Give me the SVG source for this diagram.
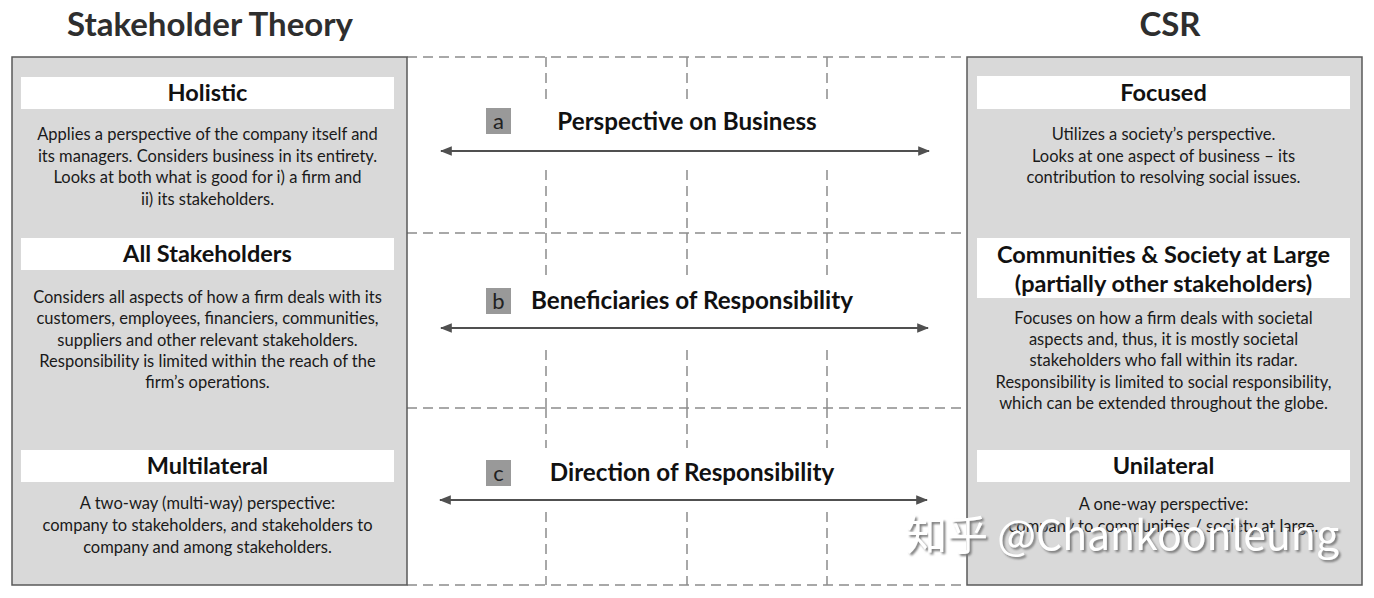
<svg xmlns="http://www.w3.org/2000/svg" width="1374" height="598" viewBox="0 0 1374 598">
<style>
.panel{fill:#d9d9d9;stroke:#595959;stroke-width:1.5}
.hdr{fill:#ffffff}
.title{font-family:Lato,"Open Sans",sans-serif;font-weight:bold;font-size:33px;fill:#2e2e2e;text-anchor:middle}
.h{font-family:Lato,"Open Sans",sans-serif;font-weight:bold;font-size:23.5px;fill:#111111;text-anchor:middle}
.b{font-family:Lato,"Open Sans",sans-serif;font-size:16.5px;fill:#1a1a1a;text-anchor:middle}
.dim{font-family:Lato,"Open Sans",sans-serif;font-weight:bold;font-size:24.2px;fill:#111111;text-anchor:middle}
.tag{fill:#999999}
.tagt{font-family:Lato,"Open Sans",sans-serif;font-size:22px;fill:#222222;text-anchor:middle}
.grid{stroke:#8c8c8c;stroke-width:1.5;stroke-dasharray:10 6;fill:none}
.arrow{stroke:#505050;stroke-width:2;fill:none;marker-start:url(#ah);marker-end:url(#ah)}
.wm{font-family:"Noto Sans CJK SC","Open Sans",sans-serif;font-size:41px;fill:#ffffff;filter:url(#sh)}
</style>
<defs>
<marker id="ah" viewBox="0 0 10 10" refX="9" refY="5" markerWidth="6" markerHeight="6" orient="auto-start-reverse" markerUnits="strokeWidth">
<path d="M0,1 L10,5 L0,9 Z" fill="#505050"/>
</marker>
<filter id="sh" x="-5%" y="-20%" width="110%" height="150%">
<feDropShadow dx="2" dy="2" stdDeviation="0.8" flood-color="#7a7a7a" flood-opacity="1"/>
</filter>
</defs>
<rect width="1374" height="598" fill="#ffffff"/>

<g id="titles">
<text class="title" x="210" y="36">Stakeholder Theory</text>
<text class="title" x="1170" y="36">CSR</text>
</g>

<g id="connectors">
<path class="grid" d="M407,57 H967 M407,233 H967 M407,408 H967 M407,585 H967"/>
<path class="grid" d="M546,57 V105 M546,170 V233 M687,57 V105 M687,170 V233 M827,57 V105 M827,170 V233"/>
<path class="grid" d="M546,233 V280 M546,350 V408 M687,233 V280 M687,350 V408 M827,233 V280 M827,350 V408"/>
<path class="grid" d="M546,408 V448 M546,512 V585 M687,408 V448 M687,512 V585 M827,408 V448 M827,512 V585"/>
<line class="arrow" x1="441" y1="151" x2="929" y2="151"/>
<line class="arrow" x1="441" y1="328" x2="928" y2="328"/>
<line class="arrow" x1="440" y1="500" x2="927" y2="500"/>
</g>

<g id="dim-a">
<rect class="tag" x="486" y="108" width="25" height="26"/>
<text class="tagt" x="498.5" y="129">a</text>
<text class="dim" x="687" y="130">Perspective on Business</text>
</g>
<g id="dim-b">
<rect class="tag" x="486" y="288" width="25" height="26"/>
<text class="tagt" x="498.5" y="309">b</text>
<text class="dim" x="692" y="309">Beneficiaries of Responsibility</text>
</g>
<g id="dim-c">
<rect class="tag" x="486" y="460" width="25" height="26"/>
<text class="tagt" x="498.5" y="481">c</text>
<text class="dim" x="692" y="481">Direction of Responsibility</text>
</g>

<g id="stakeholder-panel">
<rect class="panel" x="12" y="57" width="395" height="528"/>
</g>
<g id="holistic">
<rect class="hdr" x="21" y="77" width="373" height="32"/>
<text class="h" x="207.5" y="101">Holistic</text>
<text class="b" x="207.5" y="140">Applies a perspective of the company itself and</text>
<text class="b" x="207.5" y="162">its managers. Considers business in its entirety.</text>
<text class="b" x="207.5" y="183">Looks at both what is good for i) a firm and</text>
<text class="b" x="207.5" y="205">ii) its stakeholders.</text>
</g>
<g id="all-stakeholders">
<rect class="hdr" x="21" y="238" width="373" height="32"/>
<text class="h" x="207.5" y="262">All Stakeholders</text>
<text class="b" x="207.5" y="303">Considers all aspects of how a firm deals with its</text>
<text class="b" x="207.5" y="324">customers, employees, financiers, communities,</text>
<text class="b" x="207.5" y="346">suppliers and other relevant stakeholders.</text>
<text class="b" x="207.5" y="367">Responsibility is limited within the reach of the</text>
<text class="b" x="207.5" y="388">firm’s operations.</text>
</g>
<g id="multilateral">
<rect class="hdr" x="21" y="450" width="373" height="32"/>
<text class="h" x="207.5" y="474">Multilateral</text>
<text class="b" x="207.5" y="509">A two-way (multi-way) perspective:</text>
<text class="b" x="207.5" y="531">company to stakeholders, and stakeholders to</text>
<text class="b" x="207.5" y="553">company and among stakeholders.</text>
</g>

<g id="csr-panel">
<rect class="panel" x="967" y="57" width="395" height="528"/>
</g>
<g id="focused">
<rect class="hdr" x="977" y="76" width="373" height="33"/>
<text class="h" x="1163.5" y="101">Focused</text>
<text class="b" x="1163.5" y="140">Utilizes a society’s perspective.</text>
<text class="b" x="1163.5" y="162">Looks at one aspect of business – its</text>
<text class="b" x="1163.5" y="183">contribution to resolving social issues.</text>
</g>
<g id="communities">
<rect class="hdr" x="977" y="238" width="373" height="60"/>
<text class="h" x="1163.5" y="263">Communities &amp; Society at Large</text>
<text class="h" x="1163.5" y="292">(partially other stakeholders)</text>
<text class="b" x="1163.5" y="324">Focuses on how a firm deals with societal</text>
<text class="b" x="1163.5" y="345">aspects and, thus, it is mostly societal</text>
<text class="b" x="1163.5" y="366">stakeholders who fall within its radar.</text>
<text class="b" x="1163.5" y="388">Responsibility is limited to social responsibility,</text>
<text class="b" x="1163.5" y="409">which can be extended throughout the globe.</text>
</g>
<g id="unilateral">
<rect class="hdr" x="977" y="450" width="373" height="32"/>
<text class="h" x="1163.5" y="474">Unilateral</text>
<text class="b" x="1163.5" y="510">A one-way perspective:</text>
<text class="b" x="1163.5" y="532">company to communities / society at large.</text>
</g>

<g id="watermark">
<text class="wm" x="906" y="550">知乎 @Chankoonleung</text>
</g>
</svg>
